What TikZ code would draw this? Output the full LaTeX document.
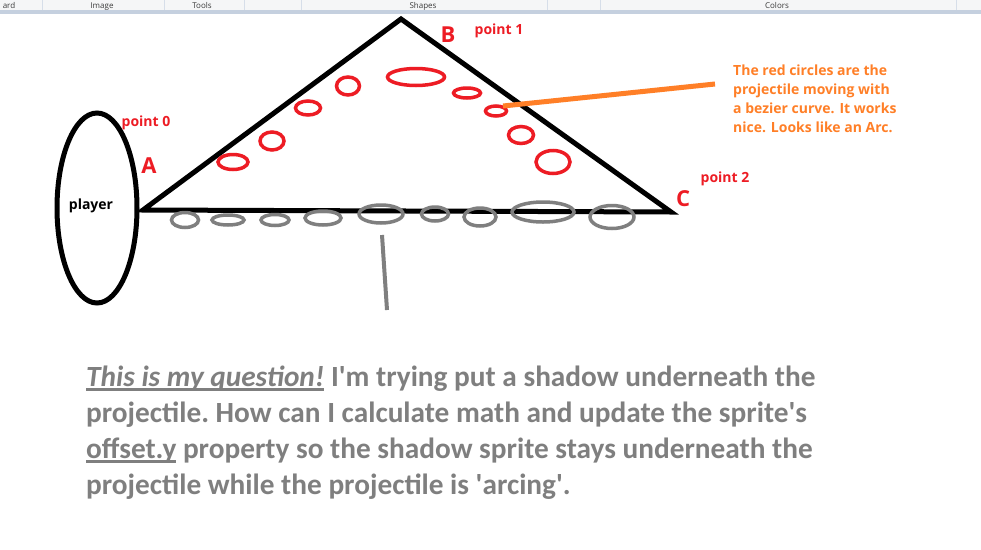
\documentclass[tikz,border=0pt]{standalone}
\usepackage{fontspec}
\setmainfont{Carlito}
\newfontfamily\lab{Open Sans}
\definecolor{pred}{HTML}{ED1C24}
\definecolor{porange}{HTML}{FF7F27}
\definecolor{pgray}{HTML}{7F7F7F}
\definecolor{ribbon}{HTML}{F5F6F7}
\definecolor{ribbonline}{HTML}{C5D0DF}
\definecolor{ribbontext}{HTML}{3B3B3B}
\newcommand{\thickul}[1]{\leavevmode\setbox0\hbox{#1}\rlap{\vrule width\wd0 height -2.2pt depth 4.6pt}\box0\relax}
\tikzset{
  blackline/.style={line width=5pt, line join=miter},
  redring/.style={draw=pred, line width=3.5pt},
  shadowring/.style={draw=pgray, line width=3.5pt},
  smalllabel/.style={font=\lab\bfseries\fontsize{14}{16}\selectfont, inner sep=0pt},
  biglabel/.style={font=\lab\bfseries\fontsize{22}{26}\selectfont, text=pred, inner sep=0pt},
  ribbonlabel/.style={font=\lab\fontsize{8}{9}\selectfont, text=ribbontext, inner sep=0pt, anchor=base},
}
\begin{document}
\begin{tikzpicture}[x=1pt,y=-1pt]
\useasboundingbox (0,0) rectangle (981,549);
\fill[white] (0,0) rectangle (981,549);
% ribbon strip (screenshot top)
\fill[ribbon] (0,0) rectangle (981,10);
\node[ribbonlabel] (r1) at (9,8) {ard};
\node[ribbonlabel] (r2) at (102,8) {Image};
\node[ribbonlabel] (r3) at (202,8) {Tools};
\node[ribbonlabel] (r4) at (423,8) {Shapes};
\node[ribbonlabel] (r5) at (777,8) {Colors};
\foreach \sx in {42,164,244,301,547,600,956}
  \draw[ribbonline!70!white, line width=0.8pt] (\sx,0) -- (\sx,10);
\fill[ribbonline] (0,10) rectangle (981,14);

% player
\draw[line width=5pt] (97,208) ellipse [x radius=40, y radius=95];
\node[smalllabel, text=black] (player) at (91,206) {player};

% triangle
\coordinate (A) at (143,210);
\coordinate (B) at (401,19);
\coordinate (C) at (671,212);
\draw[blackline] (A) -- (B) -- (C) -- cycle;

% labels
\node[smalllabel, text=pred] (p0) at (146,123) {point 0};
\node[biglabel] (lA) at (149,166) {A};
\node[biglabel] (lB) at (448,35) {B};
\node[smalllabel, text=pred] (p1) at (499,31) {point 1};
\node[biglabel] (lC) at (683,199) {C};
\node[smalllabel, text=pred] (p2) at (725,179) {point 2};

% red projectile rings
\draw[redring] (233,162) ellipse [x radius=15, y radius=7.5];
\draw[redring] (272,141) ellipse [x radius=12, y radius=9];
\draw[redring] (308,108) ellipse [x radius=12.5, y radius=7];
\draw[redring] (348,86) ellipse [x radius=11.5, y radius=9];
\draw[redring] (416,77) ellipse [x radius=28.5, y radius=8.5];
\draw[redring] (467,93) ellipse [x radius=13.5, y radius=5];
\draw[redring] (496,111) ellipse [x radius=10.5, y radius=5];
\draw[redring] (521,135) ellipse [x radius=12.5, y radius=8.5];
\draw[redring] (553,162) ellipse [x radius=17, y radius=11.5];

% shadow rings
\draw[shadowring] (185,220) ellipse [x radius=13.5, y radius=7.5];
\draw[shadowring] (228,220) ellipse [x radius=16, y radius=5];
\draw[shadowring] (275,220) ellipse [x radius=14, y radius=5.5];
\draw[shadowring] (323,218) ellipse [x radius=18, y radius=7];
\draw[shadowring] (381,214) ellipse [x radius=22, y radius=9];
\draw[shadowring] (435,214) ellipse [x radius=13.5, y radius=7];
\draw[shadowring] (480,217) ellipse [x radius=16, y radius=9];
\draw[shadowring] (543,212) ellipse [x radius=31, y radius=10];
\draw[shadowring] (612,217) ellipse [x radius=22, y radius=11.5];

% gray pointer line
\coordinate (g1) at (382,235);
\coordinate (g2) at (387,310);
\draw[pgray, line width=4pt] (g1) -- (g2);

% orange note
\coordinate (o1) at (503,106);
\coordinate (o2) at (715,84);
\draw[porange, line width=5pt] (o1) -- (o2);
\node[smalllabel, text=porange, anchor=north west, align=left,
      font=\lab\bfseries\fontsize{14}{19}\selectfont] (note) at (733,65)
  {The red circles are the\\projectile moving with\\a bezier curve. It works\\nice. Looks like an Arc.};

% question text
\node[anchor=base west, inner sep=0pt, align=left, text=pgray,
      font=\frenchspacing\bfseries\fontsize{29.3}{36}\selectfont] (q) at (86,494)
  {\thickul{\textit{This is my question!}} I\textquotesingle m trying put a shadow underneath the\\
   projectile. How can I calculate math and update the sprite\textquotesingle s\\
   \thickul{offset.y} property so the shadow sprite stays underneath the\\
   projectile while the projectile is \textquotesingle arcing\textquotesingle .};
\end{tikzpicture}
\end{document}
